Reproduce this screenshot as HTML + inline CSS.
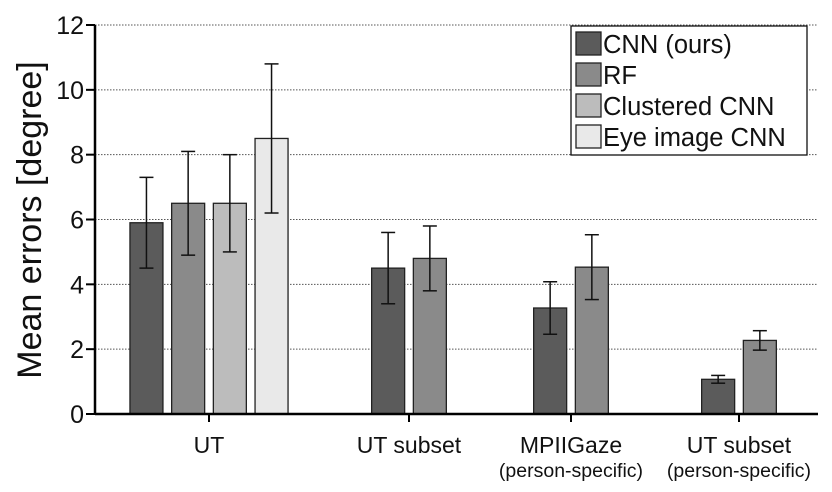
<!DOCTYPE html>
<html><head><meta charset="utf-8"><style>
body{margin:0;background:#fff;}
svg{display:block;font-family:"Liberation Sans",Arial,sans-serif;}
</style></head><body>
<svg id="chart" width="832" height="492" viewBox="0 0 832 492"></svg>
<script>
const categories = ["UT","UT subset","MPIIGaze","UT subset"];
const subLabels = ["","","(person-specific)","(person-specific)"];
const seriesNames = ["CNN (ours)","RF","Clustered CNN","Eye image CNN"];
const cnnValues = [5.9,4.5,3.27,1.07];
const cnnErr = [1.4,1.1,0.81,0.12];
const rfValues = [6.5,4.8,4.53,2.27];
const rfErr = [1.6,1.0,1.0,0.3];
const clusteredValues = [6.5,null,null,null];
const clusteredErr = [1.5,null,null,null];
const eyeValues = [8.5,null,null,null];
const eyeErr = [2.3,null,null,null];
const yTicks = [0,2,4,6,8,10,12];

const NS="http://www.w3.org/2000/svg";
const svg=document.getElementById('chart');
function mk(tag,attrs,parent){const e=document.createElementNS(NS,tag);for(const k in attrs)e.setAttribute(k,attrs[k]);(parent||svg).appendChild(e);return e;}
const x0=95,x1=818,yBase=414,yTop=25,yMax=12;
const y=v=>yBase-(v/yMax)*(yBase-yTop);
const groupCenters=[209,409,571,739];
const colors=["#5b5b5b","#8a8a8a","#bcbcbc","#e9e9e9"];
const series=[[cnnValues,cnnErr],[rfValues,rfErr],[clusteredValues,clusteredErr],[eyeValues,eyeErr]];
const bw=33,step=41.7;

yTicks.forEach(t=>{
  if(t>0){const g=mk('line',{x1:x0,x2:x1,y1:y(t),y2:y(t),stroke:'#555','stroke-width':1,'stroke-dasharray':'1.5,1.5'});
  
  }
  const tk=mk('line',{x1:x0-9,x2:x0,y1:y(t),y2:y(t),stroke:'#000','stroke-width':2});
  
  
  const tl=mk('text',{x:x0-11,y:y(t)+9,'text-anchor':'end','font-size':25,fill:'#111'});
  tl.textContent=t;
  
  
});

categories.forEach((c,gi)=>{
  const present=series.filter(s=>s[0][gi]!=null);
  const n=present.length;
  let k=0;
  series.forEach((s,si)=>{
    const v=s[0][gi]; if(v==null) return;
    const cx=groupCenters[gi]+(k-(n-1)/2)*step; k++;
    const r=mk('rect',{x:cx-bw/2,y:y(v),width:bw,height:yBase-y(v),fill:colors[si],stroke:'#222','stroke-width':1.3});
    
    
    const e=s[1][gi];
    const eg=mk('g',{stroke:'#111','stroke-width':1.5});
    
    
    mk('line',{x1:cx,x2:cx,y1:y(v+e),y2:y(v-e)},eg);
    mk('line',{x1:cx-7,x2:cx+7,y1:y(v+e),y2:y(v+e)},eg);
    mk('line',{x1:cx-7,x2:cx+7,y1:y(v-e),y2:y(v-e)},eg);
  });
  const tk=mk('line',{x1:groupCenters[gi],x2:groupCenters[gi],y1:yBase,y2:yBase+8,stroke:'#000','stroke-width':2});
  
  
  const t=mk('text',{x:groupCenters[gi],y:453,'text-anchor':'middle','font-size':23,fill:'#111'});
  t.textContent=c;
  
  
  if(subLabels[gi]){const s=mk('text',{x:groupCenters[gi],y:477,'text-anchor':'middle','font-size':19.5,fill:'#111'});
  s.textContent=subLabels[gi];
  
  }
});

const ax=mk('line',{x1:x0,x2:x0,y1:yTop,y2:yBase+1,stroke:'#000','stroke-width':2.5});


const bx=mk('line',{x1:x0,x2:x1,y1:yBase,y2:yBase,stroke:'#000','stroke-width':2.5});



const yt=mk('text',{x:0,y:0,transform:'translate(41,220) rotate(-90)','text-anchor':'middle','font-size':34,fill:'#111'});
yt.textContent='Mean errors [degree]';



const lg=mk('g',{});


mk('rect',{x:571,y:26,width:236,height:129,fill:'#fff',stroke:'#111','stroke-width':1.3},lg);
seriesNames.forEach((nm,i)=>{
  const ry=32+i*31;
  const ent=mk('g',{},lg);
  
  
  mk('rect',{x:576,y:ry,width:25,height:23,fill:colors[i],stroke:'#222','stroke-width':1.3},ent);
  const t=mk('text',{x:603,y:ry+21,'font-size':25.5,fill:'#111'},ent);
  t.textContent=nm;
});
</script>
</body></html>
